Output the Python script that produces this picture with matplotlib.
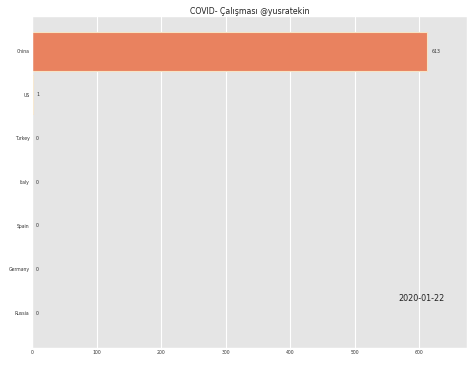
import matplotlib
matplotlib.use('Agg')
import matplotlib.pyplot as plt

countries = ['China', 'US', 'Turkey', 'Italy', 'Spain', 'Germany', 'Russia']
cases = [613, 1, 0, 0, 0, 0, 0]
date_label = '2020-01-22'

plt.style.use('ggplot')

fig, ax = plt.subplots(figsize=(4.74, 3.66), dpi=100)
fig.subplots_adjust(left=0.068, right=0.985, top=0.955, bottom=0.05)

ax.barh(countries, cases, height=0.9, color='#E9825F', edgecolor='#F6E4C6', linewidth=0.8)
ax.invert_yaxis()
ax.set_xlim(0, max(cases) * 1.1)

for i, v in enumerate(cases):
    ax.text(v + 6, i, str(v), va='center', ha='left', fontsize=3.4, color='#333333')

ax.text(0.948, 0.15, date_label, transform=ax.transAxes, ha='right', va='center',
        fontsize=5.8, color='#222222')

ax.set_title('COVID- Çalışması @yusratekin', fontsize=5.6, color='#222222', pad=2)
ax.grid(axis='y', visible=False)
ax.grid(axis='x', color='white', linewidth=0.8)
ax.tick_params(axis='both', length=0, labelsize=3.3, colors='#333333', pad=2)

plt.savefig('out.png', dpi=100)
